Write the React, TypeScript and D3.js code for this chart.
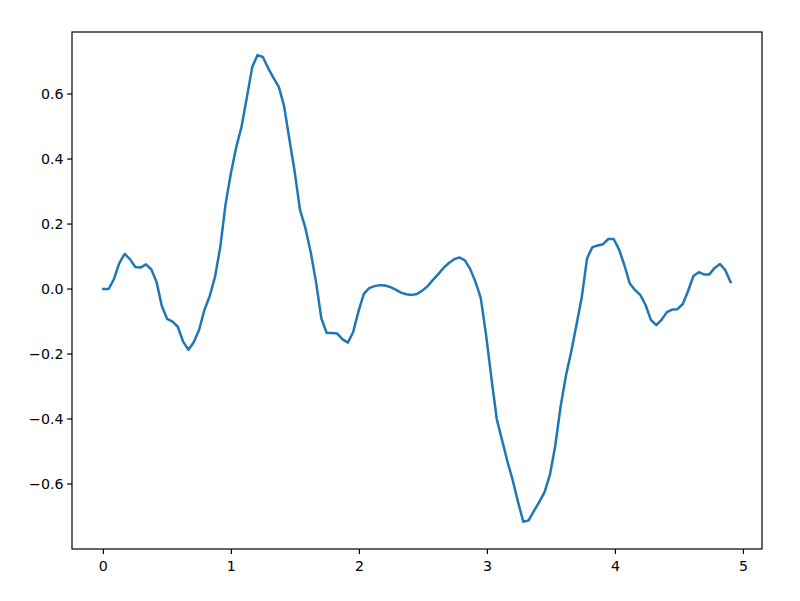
import React from "react";
import * as d3 from "d3";

// sampled signal, evenly spaced from t = 0 to t = 4.9
const tEnd = 4.9;
const values = [
  0.0, 0.0, 0.031, 0.08, 0.108, 0.092, 0.068, 0.066, 0.076, 0.061,
  0.022, -0.052, -0.092, -0.1, -0.116, -0.162, -0.187, -0.164, -0.126, -0.065,
  -0.022, 0.037, 0.13, 0.262, 0.357, 0.437, 0.5, 0.59, 0.683, 0.72,
  0.714, 0.68, 0.65, 0.622, 0.563, 0.46, 0.36, 0.243, 0.188, 0.114,
  0.022, -0.09, -0.135, -0.135, -0.137, -0.155, -0.165, -0.132, -0.068, -0.015,
  0.003, 0.009, 0.012, 0.011, 0.006, -0.002, -0.011, -0.016, -0.018, -0.015,
  -0.005, 0.009, 0.028, 0.046, 0.065, 0.08, 0.092, 0.097, 0.088, 0.062,
  0.022, -0.028, -0.142, -0.274, -0.4, -0.465, -0.53, -0.588, -0.655, -0.716,
  -0.712, -0.683, -0.655, -0.625, -0.572, -0.483, -0.363, -0.268, -0.194, -0.11,
  -0.025, 0.095, 0.129, 0.134, 0.138, 0.154, 0.154, 0.122, 0.074, 0.018,
  -0.003, -0.018, -0.049, -0.095, -0.111, -0.095, -0.071, -0.063, -0.062, -0.046,
  -0.006, 0.04, 0.052, 0.045, 0.045, 0.065, 0.077, 0.058, 0.021,
];
const xTicks = [0, 1, 2, 3, 4, 5];
const yTicks = [-0.6, -0.4, -0.2, 0.0, 0.2, 0.4, 0.6];

const W = 800;
const H = 601;
const box = { left: 72, right: 762, top: 32, bottom: 549 };
const font = "DejaVu Sans, sans-serif";

const App: React.FC = () => {
  const step = tEnd / (values.length - 1);
  const pts = values.map((v, i) => [i * step, v] as [number, number]);

  const x = d3.scaleLinear().domain([-0.245, 5.145]).range([box.left, box.right]);
  const y = d3.scaleLinear().domain([-0.8, 0.791]).range([box.bottom, box.top]);

  const line = d3
    .line<[number, number]>()
    .x((d) => x(d[0]))
    .y((d) => y(d[1]));

  const fmtY = (v: number) => v.toFixed(1).replace("-", "\u2212");

  return (
    <svg
      width={W}
      height={H}
      style={{ position: "absolute", left: 0, top: 0, background: "#fff" }}
    >
      <rect x={0} y={0} width={W} height={H} fill="#fff" />
      <path d={line(pts)!} fill="none" stroke="#1f77b4" strokeWidth={2.5} strokeLinejoin="round" strokeLinecap="square" />
      <rect
        x={box.left}
        y={box.top}
        width={box.right - box.left}
        height={box.bottom - box.top}
        fill="none"
        stroke="#000"
        strokeWidth={1.2}
      />
      {xTicks.map((t) => (
        <g key={"x" + t} transform={`translate(${x(t)},${box.bottom})`}>
          <line y1={0} y2={4.9} stroke="#000" strokeWidth={1.2} />
          <text y={22} textAnchor="middle" fontFamily={font} fontSize={14.2} fill="#000">
            {t}
          </text>
        </g>
      ))}
      {yTicks.map((t) => (
        <g key={"y" + t} transform={`translate(${box.left},${y(t)})`}>
          <line x1={0} x2={-4.9} stroke="#000" strokeWidth={1.2} />
          <text x={-8.5} dy="0.35em" textAnchor="end" fontFamily={font} fontSize={14.2} fill="#000">
            {fmtY(t)}
          </text>
        </g>
      ))}
    </svg>
  );
};

export default App;
